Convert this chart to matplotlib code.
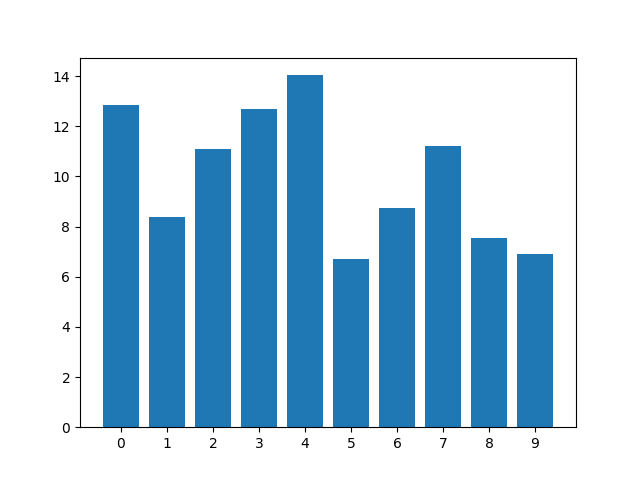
import matplotlib
matplotlib.use("Agg")
import matplotlib.pyplot as plt

categories = list(range(10))
values = [12.84, 8.38, 11.09, 12.68, 14.04, 6.70, 8.74, 11.21, 7.54, 6.90]

fig, ax = plt.subplots(figsize=(6.4, 4.8), dpi=100)
ax.bar(categories, values)
ax.set_xticks(categories)
fig.savefig("out.png")
